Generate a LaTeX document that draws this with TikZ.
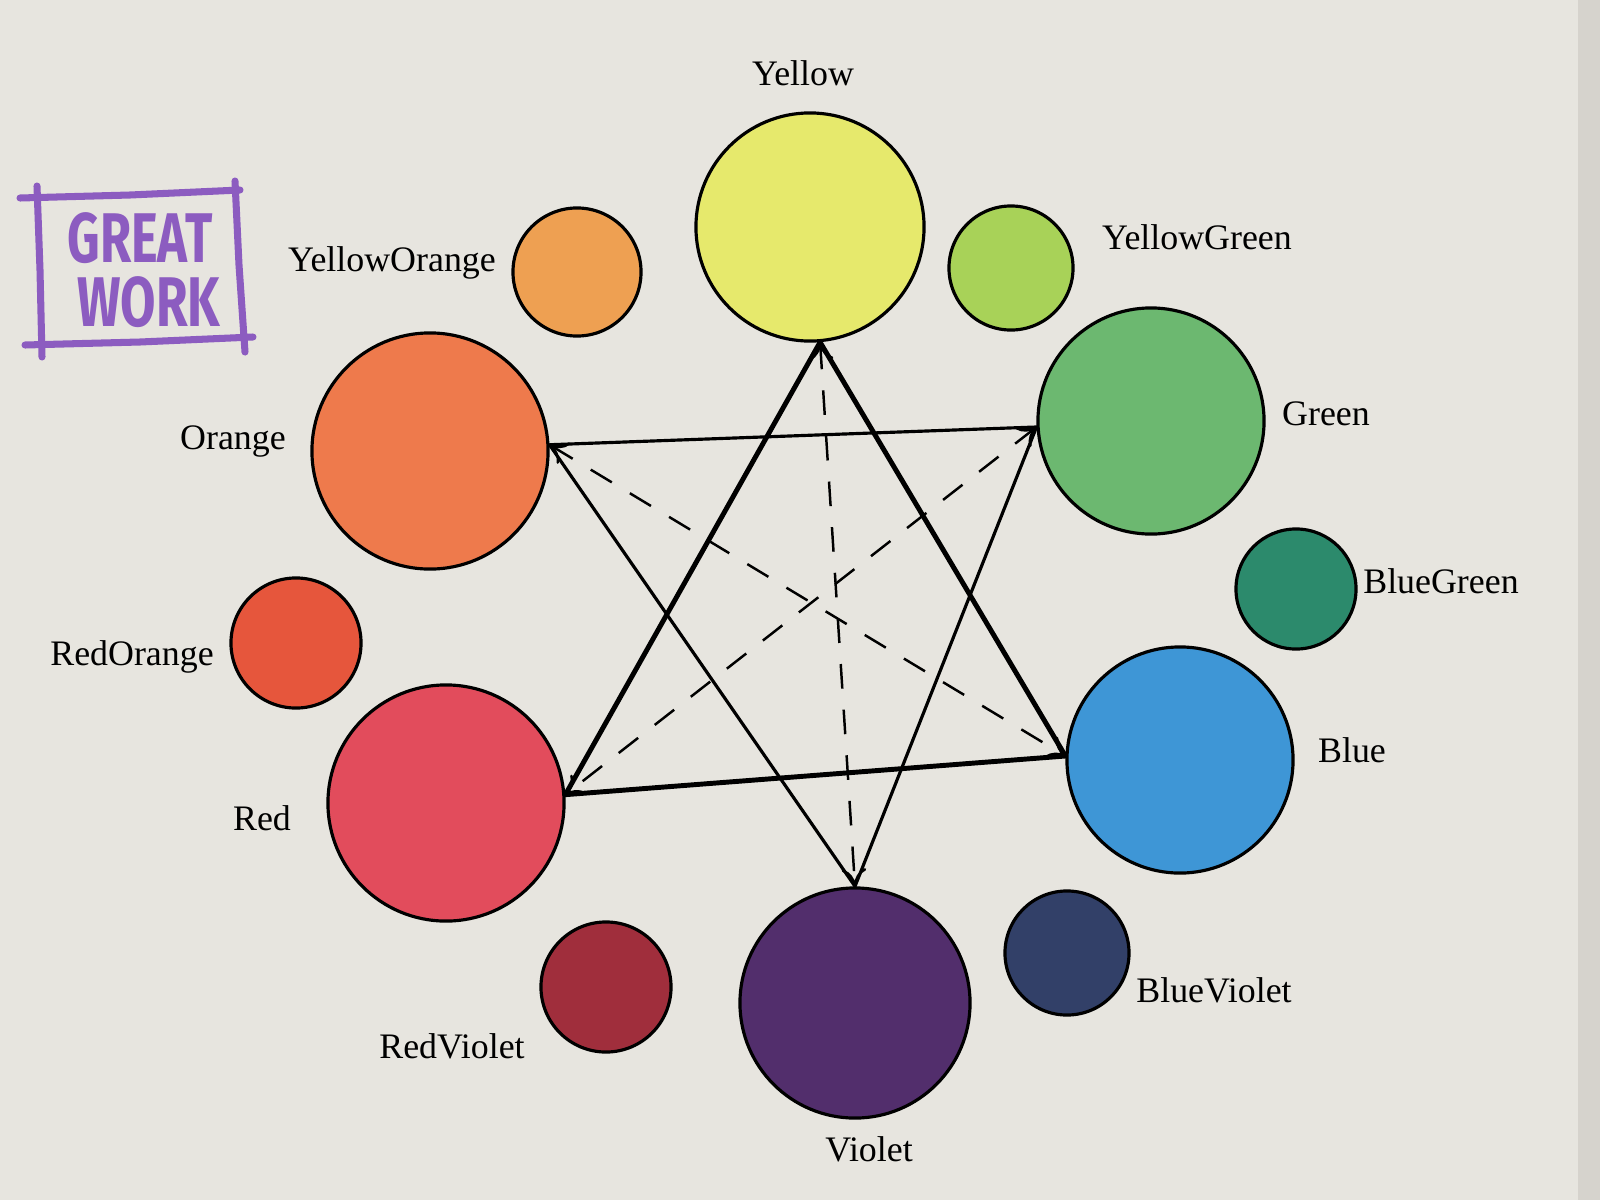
\documentclass[tikz,border=0pt]{standalone}
\usepackage{fontspec}
\setmainfont{Liberation Serif}
\newfontfamily\stampfont{Fira Sans}
\usetikzlibrary{arrows.meta}

\definecolor{paper}{RGB}{231,229,223}
\definecolor{paperedge}{RGB}{214,211,205}
\definecolor{stampink}{RGB}{140,92,192}
\definecolor{cyellow}{RGB}{230,233,108}
\definecolor{cyellowgreen}{RGB}{168,210,88}
\definecolor{cgreen}{RGB}{108,184,112}
\definecolor{cbluegreen}{RGB}{44,138,108}
\definecolor{cblue}{RGB}{62,150,214}
\definecolor{cblueviolet}{RGB}{50,64,104}
\definecolor{cviolet}{RGB}{82,46,108}
\definecolor{credviolet}{RGB}{160,46,60}
\definecolor{cred}{RGB}{226,76,92}
\definecolor{credorange}{RGB}{230,86,60}
\definecolor{corange}{RGB}{238,122,76}
\definecolor{cyelloworange}{RGB}{238,160,82}

\begin{document}
\begin{tikzpicture}[x=0.01cm, y=-0.01cm,
    disc/.style={circle, draw=black, line width=0.9pt, inner sep=0pt},
    lbl/.style={font=\fontsize{10.2}{12}\selectfont, inner sep=1pt},
    primary/.style={line width=1.4pt, line join=round},
    secondary/.style={line width=0.9pt, line join=round},
    compl/.style={line width=0.7pt, dash pattern=on 7pt off 6pt,
        {To[length=5pt,width=7pt]}-{To[length=5pt,width=7pt]}},
    stampline/.style={stampink, line width=2pt, line cap=round},
    stamptext/.style={stampink, align=center, inner sep=0pt,
        font=\stampfont\bfseries\fontsize{20}{18}\selectfont}]

    % Paper
    \fill[paper] (0,0) rectangle (1600,1200);
    \fill[paperedge] (1578,0) rectangle (1600,1200);
    \useasboundingbox (0,0) rectangle (1600,1200);

    % The twelve colour discs
    \foreach \n/\x/\y/\d in {yellow/810/227/2.28, yellowgreen/1011/268/1.24,
        green/1151/421/2.26, bluegreen/1296/589/1.20, blue/1180/760/2.26,
        blueviolet/1067/953/1.24, violet/855/1003/2.30, redviolet/606/987/1.30,
        red/446/803/2.36, redorange/296/643/1.30, orange/430/451/2.36,
        yelloworange/577/272/1.28} {
        \node[disc, fill=c\n, minimum size=\d cm] (\n) at (\x,\y) {};
    }

    % Names
    \foreach \n/\x/\y/\t in {yellow/803/73/Yellow, yellowgreen/1197/237/YellowGreen,
        green/1326/414/Green, bluegreen/1441/581/BlueGreen, blue/1352/750/Blue,
        blueviolet/1214/990/BlueViolet, violet/869/1149/Violet,
        redviolet/452/1046/RedViolet, red/262/818/Red, redorange/132/657/RedOrange,
        orange/233/441/Orange, yelloworange/392/263/YellowOrange} {
        \node[lbl] (l\n) at (\x,\y) {\t};
    }

    % Primary and secondary triangles
    \draw[primary] (yellow.275) -- (red.4) -- (blue.178) -- cycle;
    \draw[secondary] (orange.3) -- (green.183) -- (violet.north) -- cycle;

    % Complementary pairs
    \draw[compl] (yellow.275) -- (violet.north);
    \draw[compl] (orange.3) -- (blue.178);
    \draw[compl] (green.183) -- (red.4);

    % Stamp
    \draw[stampline] (20,198) -- (130,195) -- (240,190);
    \draw[stampline] (25,345) -- (140,342) -- (253,337);
    \draw[stampline] (37,186) -- (40,270) -- (42,357);
    \draw[stampline] (235,181) -- (239,265) -- (245,352);
    \node[stamptext] (stamp) at (140,270)
        {\scalebox{0.72}[1]{GREAT}\\\hspace{5pt}\scalebox{0.73}[1]{WORK}};

\end{tikzpicture}
\end{document}
